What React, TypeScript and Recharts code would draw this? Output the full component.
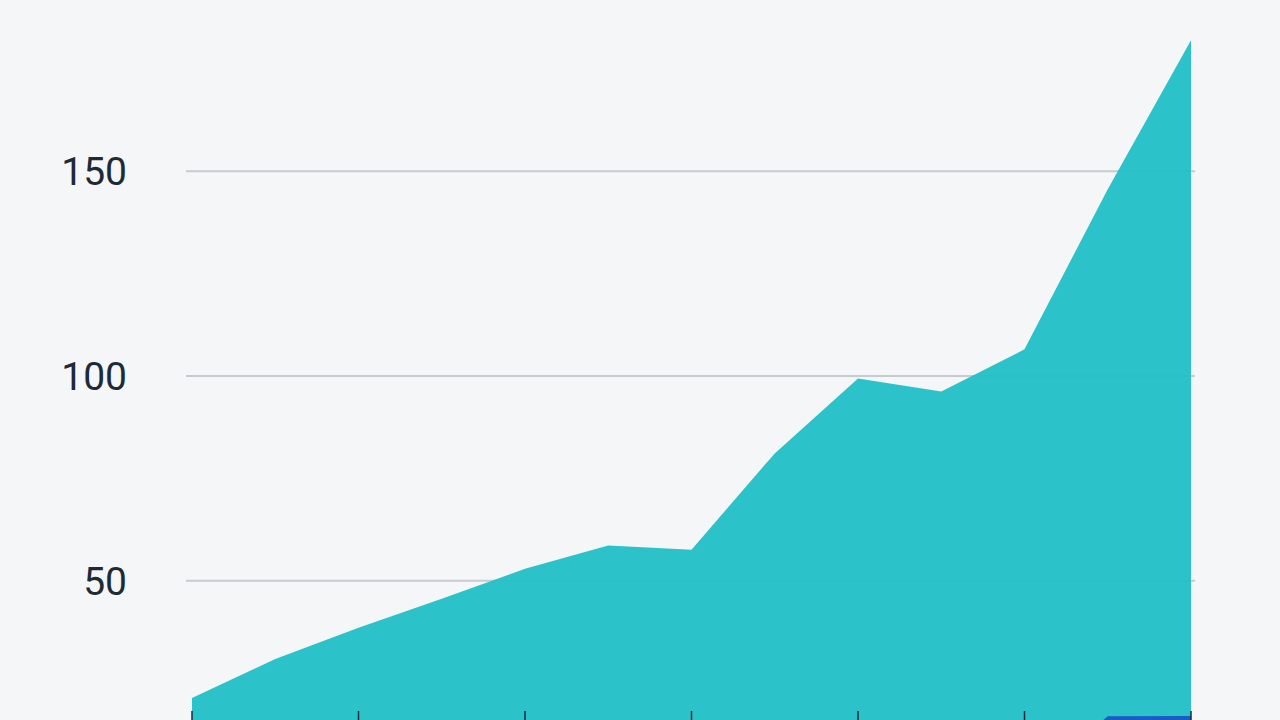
import { AreaChart, Area, XAxis, YAxis, CartesianGrid } from "recharts";

// category labels are not visible in the crop, one point every half tick
const periods = [
  "2010", "2011", "2012", "2013", "2014", "2015", "2016",
  "2017", "2018", "2019", "2020", "2021", "2022",
];
const totalValues = [21.4, 30.9, 38.5, 45.6, 52.9, 58.6, 57.6, 81.1, 99.4, 96.2, 106.5, 145.6, 182.0];
const smallValues = [null, null, null, null, null, null, null, null, null, null, 0, 16.9, 17.0];
const yTicks = [50, 100, 150];
const xTicks = ["2010", "2012", "2014", "2016", "2018", "2020", "2022"];

const data = periods.map((p, i) => ({
  period: p,
  total: totalValues[i],
  small: smallValues[i],
}));

const bg = "#f5f6f7";
const teal = "#22bfc8";
const navy = "#1a5bc6";
const gridColor = "#c5cbd0";
const labelColor = "#1d2a38";

const EmptyTick = () => <g />;

export default function App() {
  return (
    <div style={{ position: "fixed", top: 0, left: 0, width: 1280, height: 720, background: bg, overflow: "hidden" }}>
      <AreaChart
        width={1280}
        height={720}
        data={data}
        margin={{ top: 0, right: 85, bottom: 0, left: 0 }}
      >
        <CartesianGrid
          vertical={false}
          stroke={gridColor}
          strokeWidth={2}
          horizontalValues={yTicks}
        />
        <XAxis
          dataKey="period"
          ticks={xTicks}
          interval={0}
          height={1}
          mirror
          axisLine={false}
          tick={<EmptyTick />}
          tickSize={9}
          tickLine={{ stroke: "#1d2a38", strokeWidth: 1.5 }}
          padding={{ left: 6, right: 4 }}
        />
        <YAxis
          type="number"
          domain={[16, 191.8]}
          allowDataOverflow
          ticks={yTicks}
          width={186}
          axisLine={false}
          tickLine={false}
          tickSize={0}
          tickMargin={59}
          tick={{ fill: labelColor, fontSize: 39, fontFamily: "Roboto, 'Noto Sans', sans-serif" }}
        />
        <Area
          type="linear"
          dataKey="total"
          stroke="none"
          fill={teal}
          fillOpacity={0.96}
          isAnimationActive={false}
        />
        <Area
          type="linear"
          dataKey="small"
          stroke="none"
          fill={navy}
          fillOpacity={1}
          connectNulls={false}
          isAnimationActive={false}
        />
      </AreaChart>
    </div>
  );
}
